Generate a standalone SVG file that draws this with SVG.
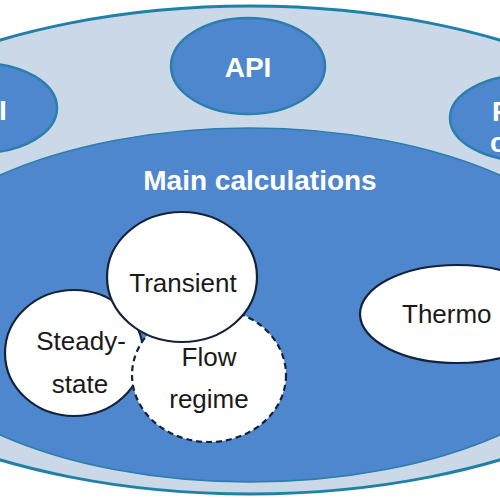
<svg xmlns="http://www.w3.org/2000/svg" width="500" height="500" viewBox="0 0 500 500">
<style>
.blue{fill:#4e87cd;stroke:#2a7fae;stroke-width:2.5}
.wt{fill:#ffffff;font-family:"Liberation Sans",Arial,sans-serif;font-weight:bold;font-size:28px;text-anchor:middle}
.bt{fill:#1a1a1a;font-family:"Liberation Sans",Arial,sans-serif;font-size:26px;text-anchor:middle}
.node{fill:#ffffff;stroke:#14233a;stroke-width:2.2}
</style>
<rect width="500" height="500" fill="#ffffff"/>
<g id="outer">
<ellipse cx="250" cy="250" rx="490" ry="244" fill="#cbd8e8" stroke="#1f80a8" stroke-width="3"/>
</g>
<g id="api">
<ellipse class="blue" cx="248" cy="66" rx="77" ry="48"/>
<text class="wt" x="248" y="77">API</text>
</g>
<g id="gui">
<ellipse class="blue" cx="-20" cy="108" rx="77" ry="45"/>
<text class="wt" x="3" y="120">I</text>
</g>
<g id="phys">
<ellipse class="blue" cx="527" cy="118" rx="77" ry="43"/>
<text class="wt" x="492" y="121" style="text-anchor:start">P</text>
<text class="wt" x="490" y="152" style="text-anchor:start">c</text>
</g>
<g id="main">
<ellipse cx="250" cy="305" rx="368" ry="177" fill="#4e87cd" stroke="#2a7fae" stroke-width="1.5"/>
<text class="wt" x="260" y="190">Main calculations</text>
</g>
<g id="steady">
<ellipse class="node" cx="74" cy="353" rx="69" ry="63"/>
<text class="bt" x="81" y="350">Steady-</text>
<text class="bt" x="80" y="393">state</text>
</g>
<g id="flow">
<ellipse class="node" cx="209" cy="375" rx="77" ry="67" stroke-dasharray="6 4"/>
<text class="bt" x="209" y="366">Flow</text>
<text class="bt" x="209" y="408">regime</text>
</g>
<g id="transient">
<ellipse class="node" cx="182" cy="277" rx="75" ry="65"/>
<text class="bt" x="183" y="292">Transient</text>
</g>
<g id="thermo">
<ellipse class="node" cx="457" cy="314" rx="97" ry="49"/>
<text class="bt" x="402" y="323" style="text-anchor:start">Thermo</text>
</g>
<g id="connectors"></g>
</svg>
